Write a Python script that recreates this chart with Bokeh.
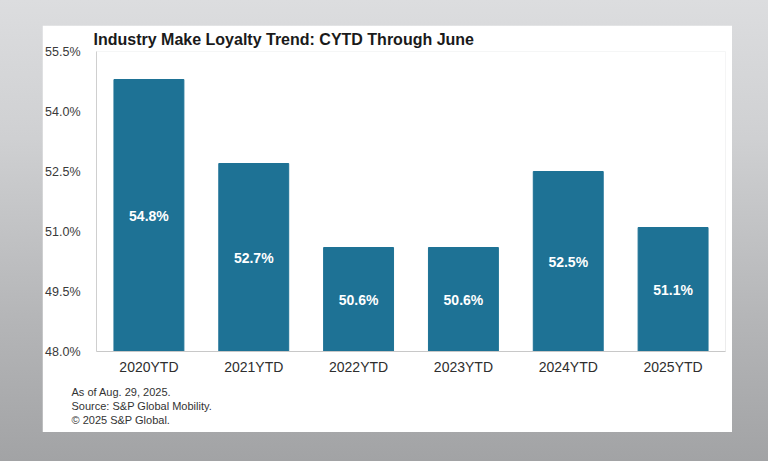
from bokeh.plotting import figure
from bokeh.models import ColumnDataSource, FixedTicker, Title, LabelSet, Range1d, CustomJSTickFormatter
from bokeh.core.properties import value
from bokeh.layouts import column
from bokeh.embed import file_html
from bokeh.resources import INLINE

categories = ["2020YTD", "2021YTD", "2022YTD", "2023YTD", "2024YTD", "2025YTD"]
loyalty = [54.8, 52.7, 50.6, 50.6, 52.5, 51.1]
y_ticks = [48.0, 49.5, 51.0, 52.5, 54.0, 55.5]
title_text = "Industry Make Loyalty Trend: CYTD Through June"
notes = ["As of Aug. 29, 2025.", "Source: S&P Global Mobility.", "\u00a9 2025 S&P Global."]

base = 48.0
src = ColumnDataSource(dict(
    cat=categories,
    val=loyalty,
    mid=[(base + v) / 2 for v in loyalty],
    lbl=[f"{v:.1f}%" for v in loyalty],
))

FONT = "Liberation Sans"
BAR = "#1e7295"

p = figure(x_range=categories, y_range=Range1d(base, 55.5),
           width=690, height=407, output_backend="svg", toolbar_location=None,
           margin=(25, 36, 29, 42),
           min_border_left=53, min_border_right=7, min_border_top=0, min_border_bottom=0,
           background_fill_color="white", border_fill_color="white", outline_line_color=None)

p.vbar(x="cat", top="val", bottom=base, width=0.667, source=src,
       fill_color=BAR, line_color=BAR)

p.add_layout(LabelSet(x="cat", y="mid", text="lbl", source=src,
                      text_color="white", text_font=value(FONT), text_font_size="14px",
                      text_font_style="bold", text_align="center", text_baseline="middle"))

p.xgrid.visible = False
p.ygrid.visible = False

p.yaxis.ticker = FixedTicker(ticks=y_ticks)
p.yaxis.formatter = CustomJSTickFormatter(code="return tick.toFixed(1) + '%';")
p.yaxis.major_tick_line_color = None
p.yaxis.minor_tick_line_color = None
p.yaxis.axis_line_color = "#cfcfcf"
p.yaxis.major_label_standoff = 10
p.yaxis.major_label_text_font = FONT
p.yaxis.major_label_text_font_size = "12.5px"
p.yaxis.major_label_text_color = "#3a3a3a"

p.xaxis.major_tick_line_color = None
p.xaxis.minor_tick_line_color = None
p.xaxis.axis_line_color = "#c8c8c8"
p.xaxis.major_label_standoff = 1
p.xaxis.major_label_text_font = FONT
p.xaxis.major_label_text_font_size = "14px"
p.xaxis.major_label_text_color = "#2e2e2e"


def spacer(so):
    return Title(text=" ", text_font_size="2px", standoff=so)


p.add_layout(spacer(2), "below")
for t in notes:
    p.add_layout(Title(text=t, text_font=FONT, text_font_size="11px",
                       text_font_style="normal", text_color="#333333",
                       text_line_height=1.1,
                       align="left", offset=-25, standoff=0), "below")
p.add_layout(spacer(3), "below")

p.add_layout(Title(text=title_text, text_font=FONT, text_font_size="16px",
                   text_font_style="bold", text_color="#1a1a1a",
                   align="left", offset=-3, standoff=7), "above")

layout = column(p, styles={
    "background": "linear-gradient(180deg, #dcdddf 0%, #cfd0d2 30%, #b4b5b7 70%, #a2a3a5 100%)"
})

open("out.html", "w").write(file_html(layout, INLINE))
